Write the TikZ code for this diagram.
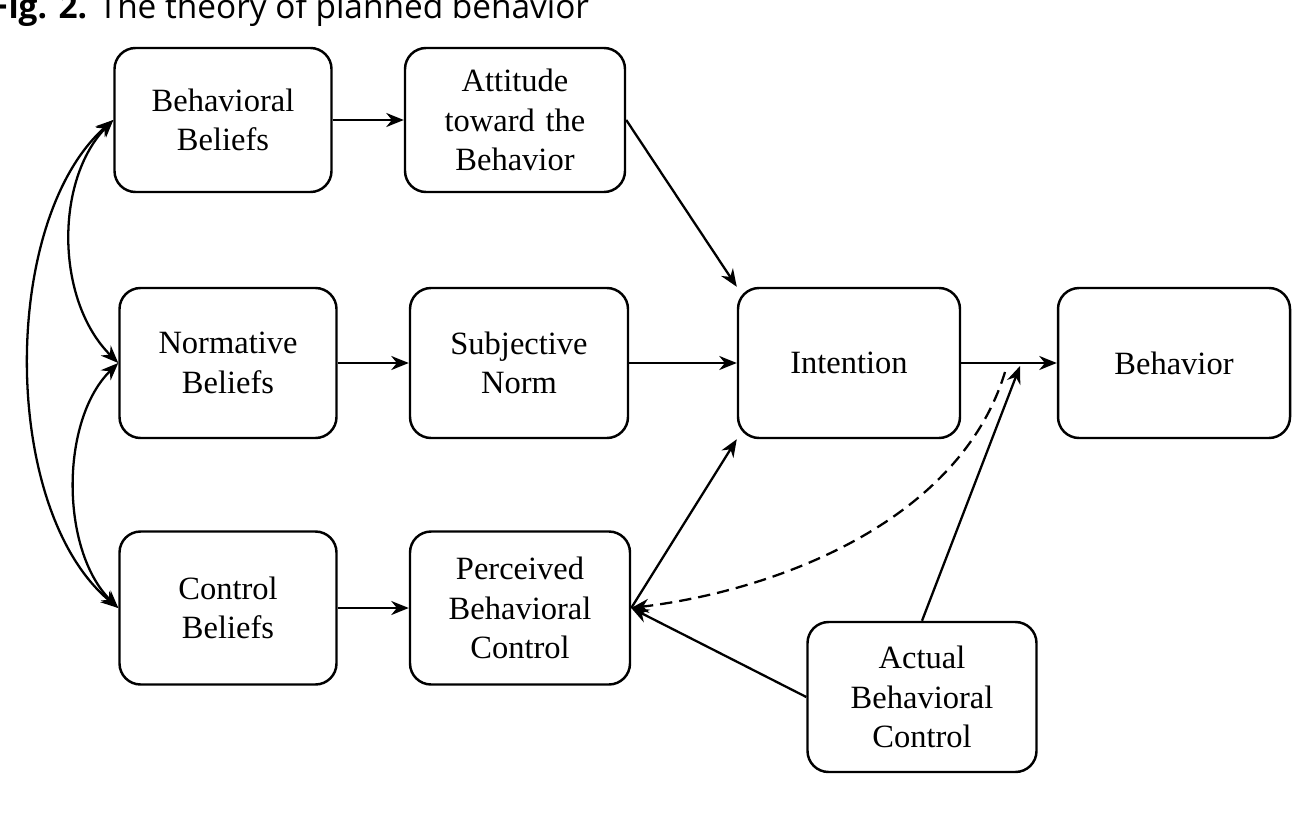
\documentclass[tikz,border=0pt]{standalone}
\usepackage{fontspec}
\setmainfont{Liberation Serif}
\newfontfamily\titlefont{Open Sans}
\usetikzlibrary{arrows.meta}
\begin{document}
\begin{tikzpicture}[x=0.02cm,y=-0.02cm,
 box/.style={draw,line width=1.4pt,rounded corners=12pt,align=center,font=\fontsize{18.5}{22.5}\selectfont},
 arr/.style={line width=1.3pt,-{Stealth[length=10pt,width=8pt]}},
 darr/.style={line width=1.3pt,{Stealth[length=10pt,width=8pt]}-{Stealth[length=10pt,width=8pt]}}]
\useasboundingbox (0,0) rectangle (1310,831);
\node[anchor=base west,font=\titlefont\fontsize{19}{22}\selectfont] (t) at (-16,19) {\textbf{Fig. 2.} The theory of planned behavior};
\node[box,text width=200*0.02cm,minimum width=217*0.02cm,minimum height=144*0.02cm] (bb) at (223,120) {Behavioral\\Beliefs};
\node[box,text width=200*0.02cm,minimum width=220*0.02cm,minimum height=144*0.02cm] (at) at (515,120) {Attitude\\toward the\\Behavior};
\node[box,text width=200*0.02cm,minimum width=217*0.02cm,minimum height=150*0.02cm] (nb) at (228,363) {Normative\\Beliefs};
\node[box,text width=200*0.02cm,minimum width=218*0.02cm,minimum height=150*0.02cm] (sn) at (519,363) {Subjective\\Norm};
\node[box,text width=200*0.02cm,minimum width=217*0.02cm,minimum height=153*0.02cm] (cb) at (228,608) {Control\\Beliefs};
\node[box,text width=200*0.02cm,minimum width=220*0.02cm,minimum height=153*0.02cm] (pb) at (520,608) {Perceived\\Behavioral\\Control};
\node[box,text width=200*0.02cm,minimum width=222*0.02cm,minimum height=150*0.02cm] (in) at (849,363) {Intention};
\node[box,text width=210*0.02cm,minimum width=232*0.02cm,minimum height=150*0.02cm] (be) at (1174,363) {Behavior};
\node[box,text width=210*0.02cm,minimum width=229*0.02cm,minimum height=150*0.02cm] (ab) at (922,697) {Actual\\Behavioral\\Control};
\coordinate (j) at (1020,366);
\draw[arr] (bb) -- (at);
\draw[arr] (nb) -- (sn);
\draw[arr] (cb) -- (pb);
\draw[arr] (at.east) -- (in.north west);
\draw[arr] (sn) -- (in);
\draw[arr] (pb.east) -- (in.south west);
\draw[arr] (in) -- (be);
\draw[arr] (ab.north) -- (j);
\draw[arr] (ab.west) -- (pb.east);
\draw[arr,dash pattern=on 7pt off 4pt] (1005,372) .. controls (960,520) and (780,590) .. (pb.east);
\draw[darr] (bb.west) .. controls (55,180) and (55,300) .. (nb.west);
\draw[darr] (nb.west) .. controls (60,420) and (60,550) .. (cb.west);
\draw[darr] (bb.west) .. controls (0,220) and (0,510) .. (cb.west);
\end{tikzpicture}
\end{document}
